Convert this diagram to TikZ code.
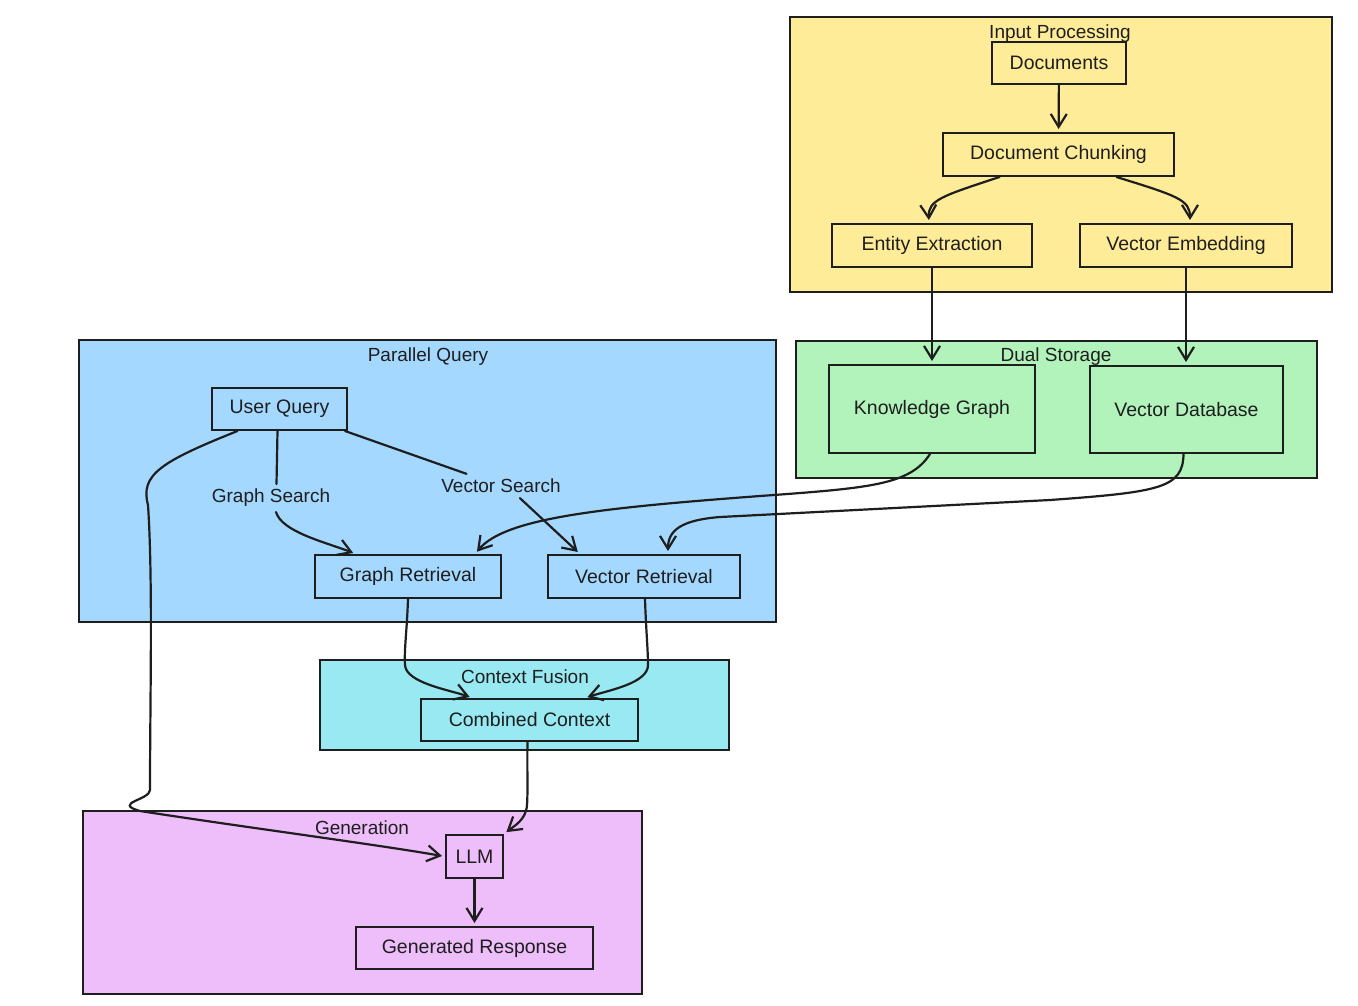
\documentclass[tikz,border=0pt]{standalone}
\usepackage{fontspec}
\setmainfont{Liberation Sans}
\usetikzlibrary{arrows.meta,calc}
\definecolor{ink}{HTML}{1E1E1E}
\definecolor{cyel}{HTML}{FFEC99}
\definecolor{cgrn}{HTML}{B2F2BB}
\definecolor{cblu}{HTML}{A5D8FF}
\definecolor{ccya}{HTML}{99E9F2}
\definecolor{cpur}{HTML}{EEBEFA}
\tikzset{
  cluster/.style={draw=ink, line width=2pt, inner sep=0pt},
  stepbox/.style={draw=ink, line width=2pt, inner sep=0pt, minimum height=43pt,
    font=\fontsize{19.5}{22}\selectfont, text=ink},
  ctitle/.style={inner sep=0pt, font=\fontsize{19}{21}\selectfont, text=ink},
  elabel/.style={inner sep=5pt, font=\fontsize{19}{21}\selectfont, text=ink},
  conn/.style={draw=ink, line width=2.2pt, line cap=round},
  arr/.style={conn, -{Straight Barb[length=13pt,width=16pt]}, shorten >=3pt},
}
\begin{document}
\begin{tikzpicture}[x=1pt,y=-1pt]
\useasboundingbox[fill=white] (0,0) rectangle (1358,1005);
% clusters
\node[cluster, fill=cyel, minimum width=542pt, minimum height=275pt] (ip) at (1061,154.5) {};
\node[cluster, fill=cgrn, minimum width=521pt, minimum height=137pt] (ds) at (1056.5,409.5) {};
\node[cluster, fill=cblu, minimum width=697pt, minimum height=282pt] (pq) at (427.5,481) {};
\node[cluster, fill=ccya, minimum width=409pt, minimum height=90pt] (cf) at (524.5,705) {};
\node[cluster, fill=cpur, minimum width=559pt, minimum height=183pt] (gn) at (362.5,902.5) {};
% cluster titles
\node[ctitle] (tip) at (1060,34) {Input Processing};
\node[ctitle] (tds) at (1056,357) {Dual Storage};
\node[ctitle] (tpq) at (428,357) {Parallel Query};
\node[ctitle] (tcf) at (525,677) {Context Fusion};
\node[ctitle] (tgn) at (362,828) {Generation};
% nodes
\node[stepbox, minimum width=134pt, minimum height=42pt] (doc) at (1059,63) {Documents};
\node[stepbox, minimum width=231pt] (chunk) at (1058.5,154.5) {Document Chunking};
\node[stepbox, minimum width=200pt] (ee) at (932,245.5) {Entity Extraction};
\node[stepbox, minimum width=212pt] (ve) at (1186,245.5) {Vector Embedding};
\node[stepbox, minimum width=206pt, minimum height=88pt] (kg) at (932,409) {Knowledge Graph};
\node[stepbox, minimum width=193pt, minimum height=87pt] (vdb) at (1186.5,409.5) {Vector Database};
\node[stepbox, minimum width=135pt, minimum height=42pt] (uq) at (279.5,409) {User Query};
\node[stepbox, minimum width=186pt] (gr) at (408,576.5) {Graph Retrieval};
\node[stepbox, minimum width=192pt] (vr) at (644,576.5) {Vector Retrieval};
\node[stepbox, minimum width=217pt, minimum height=42pt] (cc) at (529.5,720) {Combined Context};
\node[stepbox, minimum width=57pt] (llm) at (474.5,856.5) {LLM};
\node[stepbox, minimum width=237pt, minimum height=42pt] (gen) at (474.5,948) {Generated Response};
% edge labels
\node[elabel] (gs) at (271,498) {Graph Search};
\node[elabel] (vs) at (501,486) {Vector Search};
% connectors
\draw[arr] (doc) -- (chunk);
\draw[arr] ([xshift=-59pt]chunk.south) .. controls (942,196) and (928,200) .. ([xshift=-3pt]ee.north);
\draw[arr] ([xshift=58pt]chunk.south) .. controls (1178,196) and (1190,200) .. ([xshift=4pt]ve.north);
\draw[arr] (ee) -- (kg);
\draw[arr] (ve) -- (vdb.north -| ve.south);
\draw[arr] ([xshift=-2pt]kg.south) .. controls (910,485) and (870,488) .. (760,496)
  .. controls (600,508) and (505,518) .. ([xshift=67pt]gr.north);
\draw[arr] ([xshift=-3pt]vdb.south) .. controls (1183,488) and (1160,492) .. (1050,500)
  -- (720,517) .. controls (682,520) and (668,530) .. ([xshift=24pt]vr.north);
\draw[conn] ([xshift=-2pt]uq.south) -- ([xshift=-3pt]uq.south |- gs.north);
\draw[arr] ([xshift=5pt]gs.south) .. controls (282,532) and (325,542) .. ([xshift=-52pt]gr.north);
\draw[conn] ([xshift=-3pt]uq.south east) -- (vs);
\draw[arr] ([xshift=19pt]vs.south) -- ([xshift=-64pt]vr.north);
\draw[arr] ([xshift=-42pt]uq.south) .. controls (160,462) and (140,475) .. (148,505)
  .. controls (153,580) and (150,700) .. (150,790)
  .. controls (150,800) and (112,803) .. (140,811)
  .. controls (250,828) and (380,845) .. (llm.west);
\draw[arr] (gr.south) .. controls (407,630) and (404,650) .. (405,665)
  .. controls (406,683) and (450,690) .. ([xshift=-57pt]cc.north);
\draw[arr] ([xshift=1pt]vr.south) .. controls (646,630) and (648,650) .. (648,665)
  .. controls (648,683) and (610,690) .. ([xshift=55pt]cc.north);
\draw[arr] ([xshift=-2pt]cc.south) .. controls (527,770) and (528,790) .. (527,805)
  .. controls (526,820) and (514,826) .. (llm.north east);
\draw[arr] (llm) -- (gen);
\end{tikzpicture}
\end{document}
